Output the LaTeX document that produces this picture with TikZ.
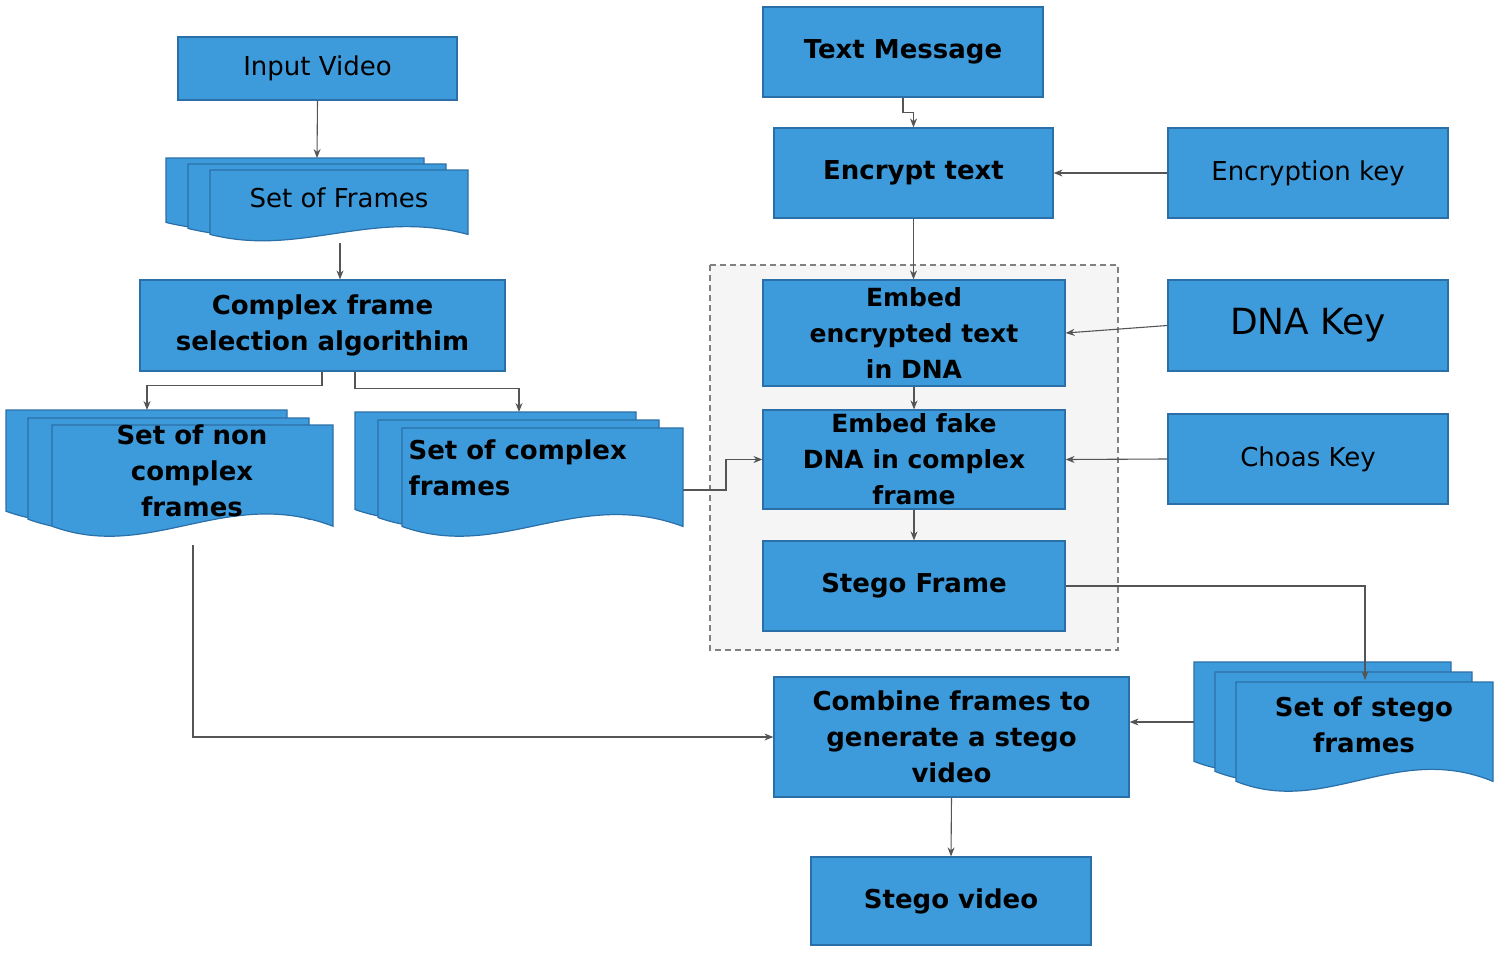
\documentclass[tikz,border=0pt]{standalone}
\usepackage{fontspec}
\setmainfont{DejaVu Sans}
\usetikzlibrary{arrows.meta}
\definecolor{bfill}{HTML}{3D9BDB}
\definecolor{bdraw}{HTML}{2B6FA8}
\definecolor{lcol}{HTML}{555555}
\tikzset{
 box/.style={draw=bdraw,line width=1.2pt,fill=bfill,align=center,inner sep=2pt,font=\fontsize{26}{36}\selectfont\bfseries},
 rbox/.style={box,font=\fontsize{26}{36}\selectfont},
 lbl/.style={align=center,font=\fontsize{26}{36}\selectfont\bfseries},
 conn/.style={draw=lcol,line width=1.1pt,-{Stealth[length=9pt,width=7pt]}},
 page/.style={draw=bdraw,line width=1.2pt,fill=bfill}
}
\newcommand{\pg}[4]{% x1 y1 x2 y2
 \path[page] (#1,#2) -- (#3,#2) -- (#3,{#4-0.08*(#4-#2)})
  .. controls ({#1+0.62*(#3-#1)},{#4-0.45*(#4-#2)}) and ({#1+0.35*(#3-#1)},{#4+0.25*(#4-#2)}) .. (#1,{#4-0.08*(#4-#2)}) -- cycle;}
\begin{document}
\begin{tikzpicture}[x=1pt,y=-1pt]
\useasboundingbox (0,0) rectangle (1500,953);
\fill[gray!8] (710,265) rectangle (1118,650);
\draw[gray,dashed,line width=1.2pt,dash pattern=on 6pt off 4pt] (710,265) rectangle (1118,650);
% rectangles
\node[rbox,minimum width=279pt,minimum height=63pt] (iv) at (317.5,68.5) {Input Video};
\node[box,minimum width=280pt,minimum height=90pt] (tm) at (903,52) {Text Message};
\node[box,minimum width=279pt,minimum height=90pt] (et) at (913.5,173) {Encrypt text};
\node[rbox,minimum width=280pt,minimum height=90pt] (ek) at (1308,173) {Encryption key};
\node[box,minimum width=365pt,minimum height=91pt] (cf) at (322.5,325.5) {Complex frame\\selection algorithim};
\node[box,minimum width=302pt,minimum height=106pt,font=\fontsize{25}{36}\selectfont\bfseries] (ee) at (914,333) {Embed\\encrypted text\\in DNA};
\node[rbox,minimum width=280pt,minimum height=91pt,font=\fontsize{36}{40}\selectfont] (dk) at (1308,325.5) {DNA Key};
\node[box,minimum width=302pt,minimum height=99pt,font=\fontsize{25}{36}\selectfont\bfseries] (ef) at (914,459.5) {Embed fake\\DNA in complex\\frame};
\node[rbox,minimum width=280pt,minimum height=90pt] (ck) at (1308,459) {Choas Key};
\node[box,minimum width=302pt,minimum height=90pt] (sf) at (914,586) {Stego Frame};
\node[box,minimum width=355pt,minimum height=120pt] (cb) at (951.5,737) {Combine frames to\\generate a stego\\video};
\node[box,minimum width=280pt,minimum height=88pt] (sv) at (951,901) {Stego video};
% multi-documents
\pg{166}{158}{424}{228}\pg{188}{164}{446}{234}\pg{210}{170}{468}{240}
\node[rbox,draw=none,fill=none] (sof) at (339,198) {Set of Frames};
\coordinate (softop) at (317,158);
\coordinate (sofbot) at (340,243);
\pg{6}{410}{287}{520}\pg{28}{418}{309}{528}\pg{52}{425}{333}{535}
\node[lbl] (snc) at (192,471) {Set of non\\complex\\frames};
\coordinate (snctop) at (147,410);
\coordinate (sncbot) at (193,545);
\pg{355}{412}{636}{518}\pg{378}{420}{659}{526}\pg{402}{428}{683}{535}
\node[lbl,align=left,anchor=west] (scf) at (405,468) {Set of complex\\frames};
\coordinate (scftop) at (519,412);
\coordinate (scfr) at (683,490);
\pg{1194}{662}{1451}{770}\pg{1215}{672}{1472}{780}\pg{1236}{682}{1493}{790}
\node[lbl] (ssf) at (1364,725) {Set of stego\\frames};
\coordinate (ssftop) at (1365,680);
\coordinate (ssfl) at (1194,722);
% connectors
\draw[conn] (iv.south) -- (softop);
\draw[conn] (sofbot) -- (sofbot|-cf.north);
\draw[conn] ([xshift=-0.5pt]cf.south) -- ++(0,14) -| (snctop);
\draw[conn] ([xshift=32.5pt]cf.south) -- ++(0,17) -| (scftop);
\draw[conn] (sncbot) |- (cb.west);
\draw[conn] (scfr) -- (726,490) |- (ef.west);
\draw[conn] (tm.south) -- ++(0,15) -| (et.north);
\draw[conn] (et.south) -- (et.south|-ee.north);
\draw[conn] (ek.west) -- (et.east);
\draw[conn] (dk.west) -- (ee.east);
\draw[conn] (ck.west) -- (ef.east);
\draw[conn] (ee.south) -- (ef.north);
\draw[conn] (ef.south) -- (sf.north);
\draw[conn] (sf.east) -| (ssftop);
\draw[conn] (ssfl) -- (ssfl-|cb.east);
\draw[conn] (cb.south) -- (sv.north);
\end{tikzpicture}
\end{document}
